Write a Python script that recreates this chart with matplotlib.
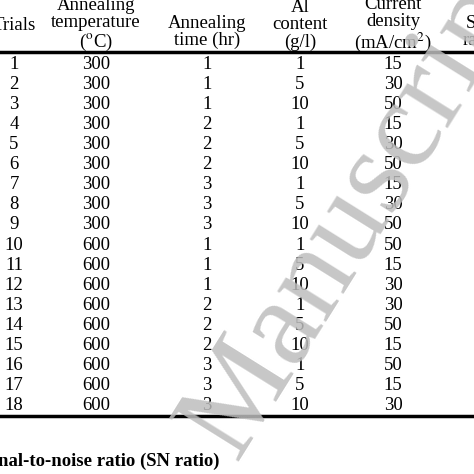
import matplotlib
matplotlib.use("Agg")
import matplotlib.pyplot as plt

trials = list(range(1, 19))
temp = [300]*9 + [600]*9
time_hr = [1,1,1,2,2,2,3,3,3,1,1,1,2,2,2,3,3,3]
al = [1,5,10,1,5,10,1,5,10,1,5,10,1,5,10,1,5,10]
cd = [15,30,50,15,30,50,15,30,50,50,15,30,30,50,15,50,15,30]
headers = ["Trials", "Annealing\ntemperature\n($^{\\rm o}$C)", "Annealing\ntime (hr)",
           "Al\ncontent\n(g/l)", "Current\ndensity\n(mA/cm$^2$)", "S/N\nratio"]

W = H = 474
fig = plt.figure(figsize=(4.74, 4.74), dpi=100)
ax = fig.add_axes([0, 0, 1, 1])
ax.set_xlim(0, W); ax.set_ylim(H, 0); ax.axis('off')
plt.rcParams['mathtext.fontset'] = 'stix'
fam = 'Liberation Serif'
fs = 13.5
xs = [14, 96, 207, 300, 393, 480]
header_y = [25, 25, 32, 25, 25, 32]
for x, h, y in zip(xs, headers, header_y):
    ax.text(x, y, h, ha='center', va='center', family=fam, fontsize=fs, linespacing=1.0)
ax.plot([0, W], [52, 52], color='black', lw=2.5)
ax.plot([0, W], [416, 416], color='black', lw=2.5)
y0, dy = 64, (406 - 64) / 17
cols = [trials, temp, time_hr, al, cd]
for i in range(18):
    y = y0 + i * dy
    for x, c in zip(xs[:5], cols):
        ax.text(x, y, str(c[i]), ha='center', va='center', family=fam, fontsize=fs)
ax.text(-2, 461, "nal-to-noise ratio (SN ratio)", ha='left', va='center', family=fam,
        fontsize=fs, fontweight='bold')
ax.text(235, 462, "Manuscript", rotation=58, rotation_mode='anchor', ha='left', va='baseline',
        family=fam, fontsize=90, color='#bdbdbd', alpha=0.85)
fig.savefig("out.png", dpi=100)
